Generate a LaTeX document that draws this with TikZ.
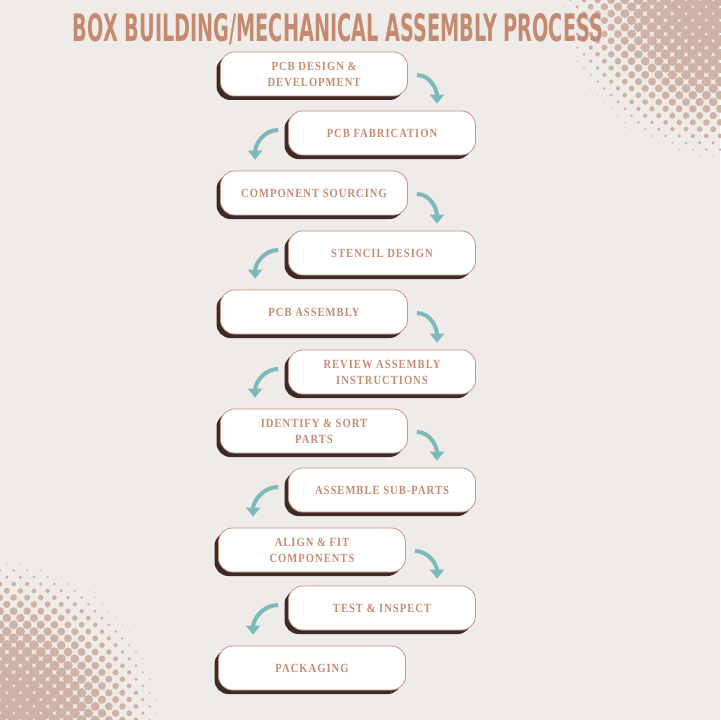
\documentclass[tikz,border=0pt]{standalone}
\usepackage{fontspec}
\usepackage{graphicx}
\usetikzlibrary{calc,arrows.meta,shadows}
\newfontfamily\titlefont{DejaVu Sans Condensed}
\newfontfamily\stepfont[LetterSpace=8,FakeStretch=0.85]{Liberation Serif}
\definecolor{bgc}{HTML}{EFEBE8}
\definecolor{dotc}{HTML}{CFB2A6}
\definecolor{titlec}{HTML}{C48A70}
\definecolor{textc}{HTML}{C68C72}
\definecolor{edgec}{HTML}{C9957F}
\definecolor{shadowc}{HTML}{3D2A27}
\definecolor{arrowc}{HTML}{7CB9BB}

\begin{document}
\begin{tikzpicture}[x=1bp,y=1bp,
	stepbox/.style={draw=edgec,line width=.8bp,fill=white,rounded corners=14bp,
		minimum width=187bp,minimum height=44bp,align=center,inner sep=0pt,
		text=textc,font=\stepfont\bfseries\fontsize{12.5}{16}\selectfont,
		drop shadow={shadow xshift=-4bp,shadow yshift=-4bp,fill=shadowc,opacity=1}},
	flow/.style={draw=arrowc,line width=4bp,-{Triangle[width=14bp,length=9bp]}}]
	
	\fill[bgc] (0,0) rectangle (720,-720);
	\useasboundingbox (0,0) rectangle (720,-720);
	%halftone corners
	\foreach \i in {0,...,14}{
		\foreach \j in {0,...,28}{
			\pgfmathsetmacro{\dx}{13.6*\i+6.8*mod(\j,2)}
			\pgfmathsetmacro{\dy}{6.8*\j}
			\pgfmathsetmacro{\dd}{veclen((\dx+10)/10,(\dy+10)/10)/17.5}
			\pgfmathsetmacro{\rr}{5.9*(1-\dd^3)}
			\ifdim\rr pt>0.35pt
			\fill[dotc] (720-\dx,-\dy) circle (\rr);
			\fill[dotc] (\dx,-720+\dy) circle (\rr);
			\fi
		}
	}
	
	\node[text=titlec] (title) at (338,-29) {\resizebox{530bp}{28bp}{\titlefont\bfseries BOX BUILDING/MECHANICAL ASSEMBLY PROCESS}};
	
	\node[stepbox] (s1) at (314,-74) {PCB DESIGN \&\\DEVELOPMENT};
	\node[stepbox] (s2) at (382,-133) {PCB FABRICATION};
	\node[stepbox] (s3) at (314,-193) {COMPONENT SOURCING};
	\node[stepbox] (s4) at (382,-253) {STENCIL DESIGN};
	\node[stepbox] (s5) at (314,-312) {PCB ASSEMBLY};
	\node[stepbox] (s6) at (382,-372) {REVIEW ASSEMBLY\\INSTRUCTIONS};
	\node[stepbox] (s7) at (314,-431) {IDENTIFY \& SORT\\PARTS};
	\node[stepbox] (s8) at (382,-490) {ASSEMBLE SUB-PARTS};
	\node[stepbox] (s9) at (312,-550) {ALIGN \& FIT\\COMPONENTS};
	\node[stepbox] (s10) at (382,-608) {TEST \& INSPECT};
	\node[stepbox] (s11) at (312,-668) {PACKAGING};
	
	%arrows
	\draw[flow] ($(s1.east)+(9,-1)$) to[out=0,in=90] ($(s2.north)+(55,7)$);
	\draw[flow] ($(s2.west)+(-10,3)$) to[out=180,in=90] ($(s3.north west)+(35,11)$);
	\draw[flow] ($(s3.east)+(9,-1)$) to[out=0,in=90] ($(s4.north)+(55,7)$);
	\draw[flow] ($(s4.west)+(-10,3)$) to[out=180,in=90] ($(s5.north west)+(35,11)$);
	\draw[flow] ($(s5.east)+(9,-1)$) to[out=0,in=90] ($(s6.north)+(55,7)$);
	\draw[flow] ($(s6.west)+(-10,3)$) to[out=180,in=90] ($(s7.north west)+(35,11)$);
	\draw[flow] ($(s7.east)+(9,-1)$) to[out=0,in=90] ($(s8.north)+(55,7)$);
	\draw[flow] ($(s8.west)+(-10,3)$) to[out=180,in=90] ($(s9.north west)+(35,11)$);
	\draw[flow] ($(s9.east)+(9,-1)$) to[out=0,in=90] ($(s10.north)+(55,7)$);
	\draw[flow] ($(s10.west)+(-10,3)$) to[out=180,in=90] ($(s11.north west)+(35,11)$);
	
\end{tikzpicture}
\end{document}
